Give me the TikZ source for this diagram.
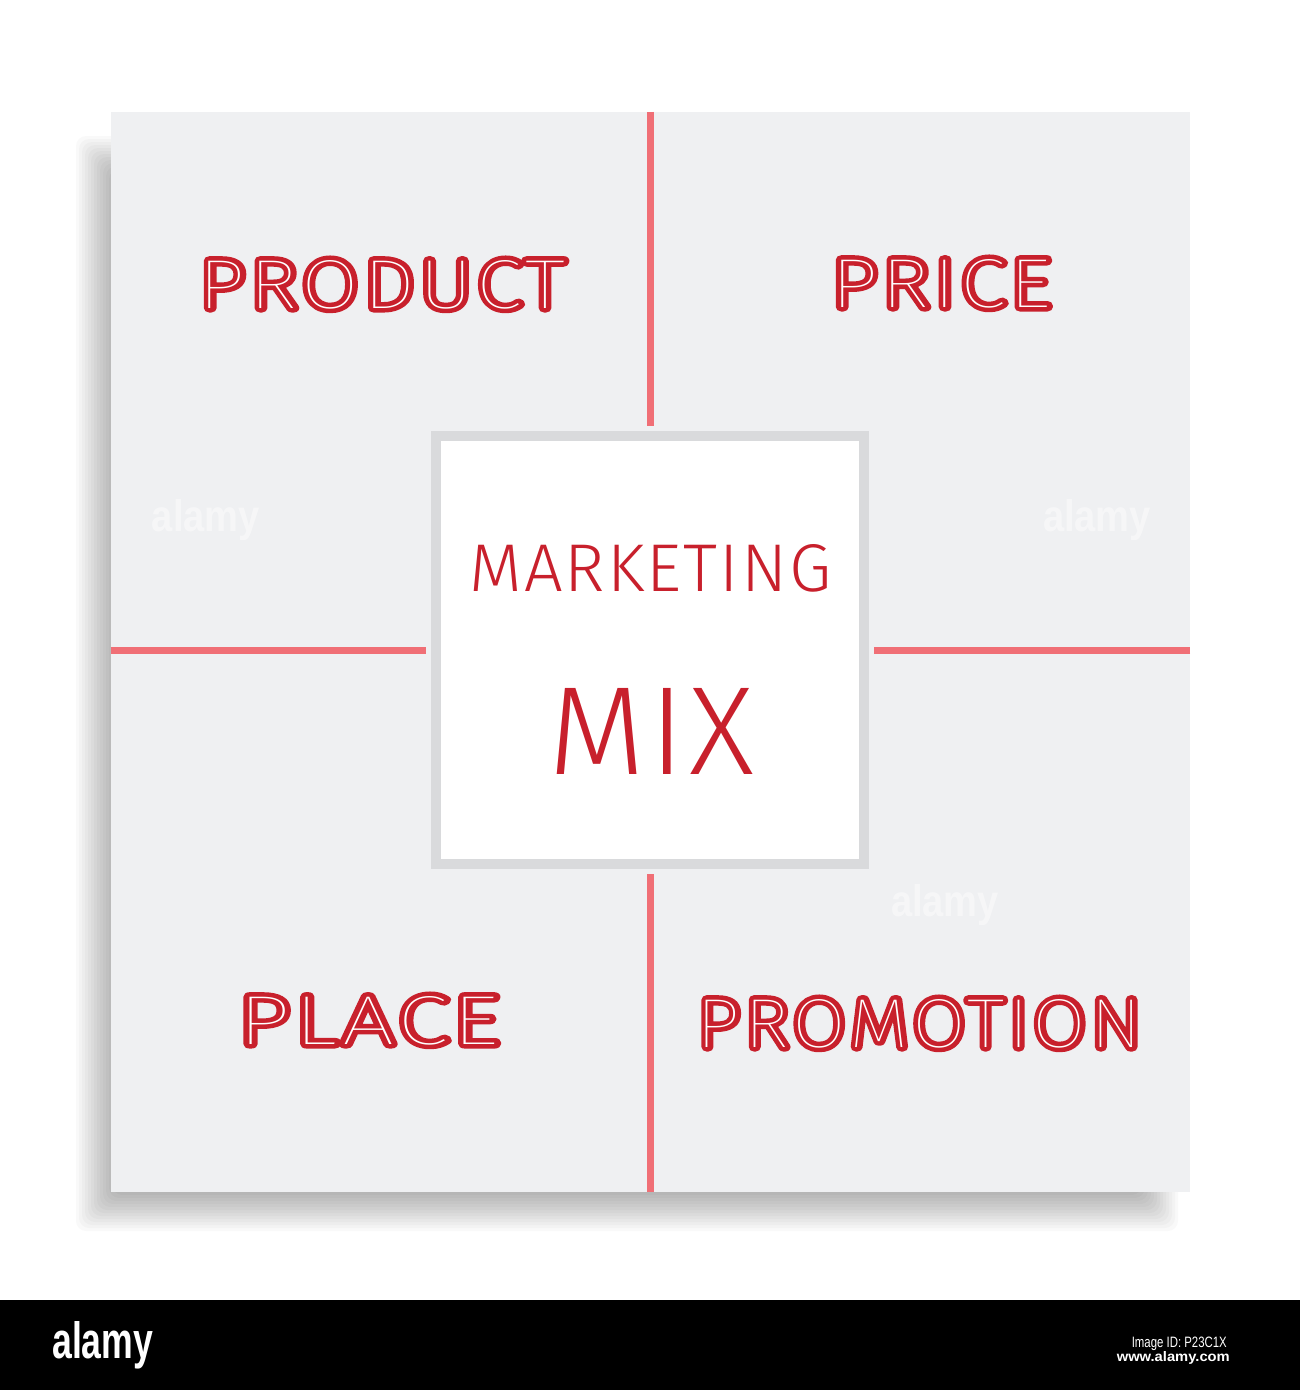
\documentclass[tikz,border=0pt]{standalone}
\usepackage{fontspec}
\usepackage{graphicx}
\setmainfont{Fira Sans}
\newcommand\mysetinline[1]{%
  \newfontfamily\inlinethin{#1}[LetterSpace=5]%
  \newfontfamily\inlinebold{#1}[FakeBold=13,LetterSpace=5]}
\IfFontExistsTF{Fira Sans Thin}{\mysetinline{Fira Sans Thin}}{%
  \IfFontExistsTF{FiraSans-Thin.otf}{\mysetinline{FiraSans-Thin.otf}}{\mysetinline{Fira Sans}}}
\IfFontExistsTF{Fira Sans Light}{\newfontfamily\lightf{Fira Sans Light}[LetterSpace=3]}{%
  \IfFontExistsTF{FiraSans-Light.otf}{\newfontfamily\lightf{FiraSans-Light.otf}[LetterSpace=3]}{\newfontfamily\lightf{Fira Sans}[LetterSpace=3]}}
\newfontfamily\logof{Liberation Sans}
\definecolor{mred}{RGB}{200,32,44}
\definecolor{linered}{RGB}{240,111,118}
\definecolor{panelgrey}{RGB}{239,240,242}
\definecolor{boxgrey}{RGB}{217,218,220}
\newcommand\inlineword[1]{\special{pdf:literal direct 1 j 1 J}\rlap{\color{mred}\inlinebold #1}{\color{white}\inlinethin #1}}
\begin{document}
\begin{tikzpicture}[x=1pt,y=-1pt,
  panelbox/.style={draw=none,fill=panelgrey,inner sep=0,minimum width=1079pt,minimum height=1080pt},
  mixbox/.style={draw=boxgrey,line width=10pt,fill=white,inner sep=0,minimum size=428pt},
  redline/.style={draw=linered,line width=7pt},
  word/.style={anchor=base,inner sep=0},
  wm/.style={inner sep=0,text=white,text opacity=0.45,font=\logof\bfseries}]
\useasboundingbox (0,0) rectangle (1300,1390);
\fill[white] (0,0) rectangle (1300,1390);
% soft shadow
\foreach \k in {0,...,12}{
  \pgfmathsetmacro\lx{112-3*\k}
  \pgfmathsetmacro\ty{172-3*\k}
  \pgfmathsetmacro\rx{1142+3*\k}
  \pgfmathsetmacro\by{1195+3*\k}
  \fill[black,opacity=0.024,rounded corners=10pt] (\lx,\ty) rectangle (\rx,\by);
}
\node[panelbox] (panel) at (650.5,652) {};
% faint watermarks
\node[wm] (wm1) at (206,520) {\resizebox{108pt}{32pt}{alamy}};
\node[wm] (wm2) at (1097,520) {\resizebox{108pt}{32pt}{alamy}};
\node[wm] (wm3) at (945,905) {\resizebox{108pt}{32pt}{alamy}};
% centre box
\node[mixbox] (mix) at (650,650) {};
\draw[redline,shorten >=5pt] (panel.north -| mix.north) -- (mix.north);
\draw[redline,shorten >=5pt] (panel.south -| mix.south) -- (mix.south);
\draw[redline,shorten >=5pt] (panel.west |- mix.west) -- (mix.west);
\draw[redline,shorten >=5pt] (panel.east |- mix.east) -- (mix.east);
\node[word,text=mred] (marketing) at (650.5,591) {\resizebox{362pt}{47pt}{\lightf MARKETING}};
\node[word,text=mred] (mixword) at (651.5,774) {\resizebox{205pt}{86pt}{\lightf MIX}};
% the four Ps
\node[word] (product) at (382,308) {\resizebox{366pt}{48pt}{\fontsize{72}{72}\selectfont\inlineword{PRODUCT}}};
\node[word] (price) at (941,307) {\resizebox{220pt}{48pt}{\fontsize{72}{72}\selectfont\inlineword{PRICE}}};
\node[word] (place) at (368.5,1044) {\resizebox{261pt}{48pt}{\fontsize{72}{72}\selectfont\inlineword{PLACE}}};
\node[word] (promotion) at (919.5,1047) {\resizebox{445pt}{48pt}{\fontsize{72}{72}\selectfont\inlineword{PROMOTION}}};
% bottom bar
\node[fill=black,inner sep=0,minimum width=1300pt,minimum height=90pt,anchor=north west] (bar) at (0,1300) {};
\node[anchor=base west,inner sep=0,text=white] (logo) at (52,1358) {\resizebox{101pt}{37pt}{\logof\bfseries alamy}};
\node[anchor=base east,inner sep=0,text=white] (imgid) at (1227,1347) {\resizebox{95pt}{10.5pt}{\logof Image ID: P23C1X}};
\node[anchor=base east,inner sep=0,text=white] (www) at (1230,1361) {\resizebox{113pt}{10pt}{\logof\bfseries www.alamy.com}};
\end{tikzpicture}
\end{document}
